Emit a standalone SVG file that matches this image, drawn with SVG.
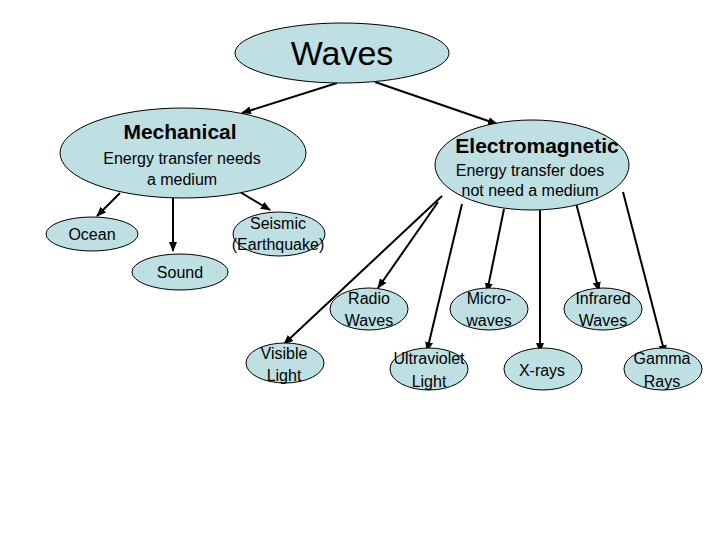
<svg xmlns="http://www.w3.org/2000/svg" width="720" height="540" viewBox="0 0 720 540">
<defs>
<marker id="a" markerWidth="10" markerHeight="8" refX="9" refY="4" orient="auto" markerUnits="userSpaceOnUse"><path d="M0,0 L10,4 L0,8 Z" fill="#000"/></marker>
</defs>
<style>
ellipse{fill:#bfe0e3;stroke:#000;stroke-width:1}
text{font-family:"Liberation Sans",Arial,sans-serif;fill:#000;text-anchor:middle}
.s{font-size:16px}
.b{font-size:21px;font-weight:bold}
line{stroke:#000;stroke-width:2;marker-end:url(#a)}
</style>
<rect width="720" height="540" fill="#fff"/>
<g id="connectors">
<line x1="337" y1="83" x2="242" y2="113"/>
<line x1="375" y1="82" x2="497" y2="124"/>
<line x1="120" y1="193" x2="97" y2="216"/>
<line x1="173" y1="198" x2="173" y2="251"/>
<line x1="240" y1="192" x2="270" y2="210"/>
<line x1="442" y1="196" x2="284" y2="344"/>
<line x1="438" y1="202" x2="378" y2="288"/>
<line x1="462" y1="204" x2="427" y2="351"/>
<line x1="504" y1="209" x2="487" y2="292"/>
<line x1="540" y1="210" x2="540" y2="352"/>
<line x1="576" y1="203" x2="599" y2="291"/>
<line x1="623" y1="192" x2="665" y2="354"/>
</g>
<g id="waves"><ellipse cx="342" cy="53" rx="107" ry="30"/><text x="342" y="65" font-size="34">Waves</text></g>
<g id="mechanical"><ellipse cx="183" cy="153" rx="123" ry="45"/><text class="b" x="180" y="139">Mechanical</text><text class="s" x="182" y="164">Energy transfer needs</text><text class="s" x="182" y="185">a medium</text></g>
<g id="electromagnetic"><ellipse cx="532" cy="165" rx="97" ry="45"/><text class="b" x="537" y="153">Electromagnetic</text><text class="s" x="530" y="176">Energy transfer does</text><text class="s" x="530" y="196">not need a medium</text></g>
<g id="ocean"><ellipse cx="92" cy="234" rx="46" ry="17"/><text class="s" x="92" y="240">Ocean</text></g>
<g id="sound"><ellipse cx="180" cy="272" rx="48" ry="18"/><text class="s" x="180" y="278">Sound</text></g>
<g id="seismic"><ellipse cx="279" cy="234" rx="46" ry="22"/><text class="s" x="278" y="229">Seismic</text><text class="s" x="278" y="250">(Earthquake)</text></g>
<g id="radio"><ellipse cx="369" cy="309" rx="39" ry="21"/><text class="s" x="369" y="304">Radio</text><text class="s" x="369" y="326">Waves</text></g>
<g id="micro"><ellipse cx="489" cy="309" rx="39" ry="21"/><text class="s" x="489" y="304">Micro-</text><text class="s" x="489" y="326">waves</text></g>
<g id="infrared"><ellipse cx="603" cy="309" rx="39" ry="21"/><text class="s" x="603" y="304">Infrared</text><text class="s" x="603" y="326">Waves</text></g>
<g id="visible"><ellipse cx="285" cy="363" rx="39" ry="20"/><text class="s" x="284" y="359">Visible</text><text class="s" x="284" y="381">Light</text></g>
<g id="uv"><ellipse cx="429" cy="369" rx="39" ry="21"/><text class="s" x="429" y="364">Ultraviolet</text><text class="s" x="429" y="387">Light</text></g>
<g id="xrays"><ellipse cx="543" cy="369" rx="39" ry="21"/><text class="s" x="542" y="376">X-rays</text></g>
<g id="gamma"><ellipse cx="663" cy="369" rx="39" ry="21"/><text class="s" x="662" y="364">Gamma</text><text class="s" x="662" y="387">Rays</text></g>
</svg>
